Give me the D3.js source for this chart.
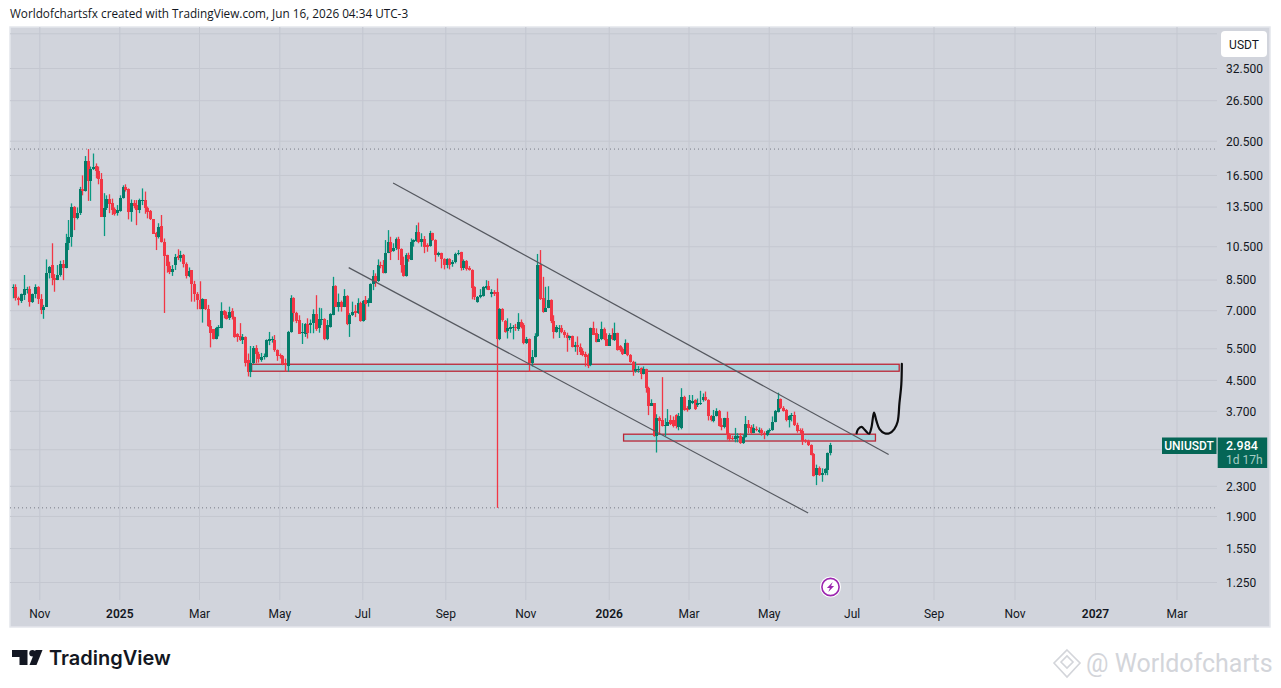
<!DOCTYPE html>
<html>
<head>
<meta charset="utf-8">
<script src="https://cdn.jsdelivr.net/npm/d3@7"></script>
<style>
  body { margin: 0; background: #fff; }
  text { font-family: Roboto, "Liberation Sans", sans-serif; }
</style>
</head>
<body>
<svg id="chart" width="1281" height="688"></svg>
<script>
// candles
var opens = [
  8.05,8.09,7.55,7.44,7.71,7.95,8.0,7.39,7.75,8.09,
  7.5,7.01,7.16,8.84,9.32,8.6,8.47,8.75,9.37,9.16,
  10.7,11.1,13.43,12.53,13.0,15.05,14.9,18.0,15.9,17.1,
  17.45,16.95,16.1,12.67,13.35,14.2,13.83,13.27,12.95,13.15,
  14.3,15.3,15.05,13.07,13.83,13.6,13.21,14.05,14.12,13.4,
  13.13,12.45,11.44,11.1,11.95,10.8,9.92,9.26,8.93,9.32,
  9.87,9.75,9.92,9.4,8.72,9.03,8.28,7.78,7.47,7.07,
  7.5,7.05,6.35,6.2,5.85,6.25,6.27,6.97,6.8,6.65,
  6.97,6.7,6.02,5.93,5.79,5.91,5.1,4.74,5.0,5.5,
  5.32,5.12,5.19,5.21,5.77,5.78,5.79,5.44,5.27,5.25,
  5.0,4.91,6.1,7.55,6.89,6.58,6.05,6.02,6.41,6.37,
  6.45,6.84,6.24,6.58,6.6,5.85,6.3,6.78,8.15,7.16,
  7.39,7.16,7.66,6.42,6.77,6.98,6.87,7.34,6.55,7.47,
  7.33,7.34,8.26,8.7,8.43,9.32,9.32,8.88,10.08,10.77,
  10.2,10.36,10.97,10.3,9.32,8.7,9.92,9.62,10.8,10.87,
  11.5,10.8,10.97,10.58,10.5,11.4,10.92,9.92,10.05,9.66,
  9.32,9.66,9.38,9.48,10.0,10.1,9.13,9.58,9.13,9.03,
  8.12,7.39,7.6,7.67,8.04,8.15,7.75,7.87,7.87,5.82,
  7.05,6.54,6.14,6.2,6.24,6.3,6.2,6.51,6.37,5.7,
  5.83,5.02,5.21,5.93,9.32,7.55,6.94,7.09,7.47,6.54,
  6.1,6.24,6.27,6.1,6.0,5.88,5.93,5.53,5.61,5.56,
  5.42,5.31,5.27,4.94,6.24,6.05,5.73,5.82,6.2,5.85,
  5.59,6.0,5.79,6.05,5.58,5.46,5.32,5.67,5.27,5.05,
  4.76,4.79,4.85,4.67,4.81,4.27,3.82,3.88,3.15,3.53,
  3.49,3.35,3.37,3.49,3.5,3.6,3.33,3.31,4.05,3.76,
  3.74,3.88,3.96,3.84,3.86,3.96,4.05,3.96,3.57,3.46,
  3.58,3.7,3.38,3.33,3.53,3.2,3.12,3.09,3.11,3.16,
  3.02,3.13,3.41,3.33,3.22,3.3,3.24,3.28,3.22,3.17,
  3.26,3.27,3.45,3.68,3.98,3.76,3.72,3.48,3.57,3.6,
  3.38,3.28,3.26,3.07,3.06,2.98,2.81,2.46,2.57,2.47,
  2.49,2.55,2.83
];
var highs = [
  8.25,8.25,7.63,7.78,8.75,8.12,8.15,7.78,8.25,8.15,
  7.75,7.24,9.66,9.26,10.7,8.8,9.32,9.58,9.62,11.36,
  12.4,13.78,13.54,13.43,15.3,16.45,18.6,19.44,17.4,18.9,
  17.75,17.4,16.7,14.7,14.5,14.6,14.2,13.43,13.63,14.5,
  15.45,15.55,15.15,14.12,14.07,14.07,14.2,15.15,14.85,13.5,
  13.21,12.45,11.5,12.15,12.8,11.03,9.95,9.52,9.32,10.0,
  10.3,10.2,10.0,9.48,9.18,9.03,8.43,7.85,8.41,7.55,
  7.5,7.24,6.58,6.2,6.3,6.37,7.36,7.01,6.94,7.16,
  7.09,6.72,6.05,6.45,6.02,5.93,5.32,5.58,5.58,5.61,
  5.38,5.34,5.32,5.82,6.1,5.93,5.98,5.46,5.32,5.27,
  5.15,6.14,7.7,7.6,6.93,6.78,6.45,6.45,6.65,6.6,
  7.04,7.7,7.11,7.09,6.65,6.58,6.87,8.65,8.2,7.78,
  7.44,8.0,7.7,6.87,7.39,7.24,7.55,7.39,7.47,7.66,
  7.55,8.3,9.03,8.84,9.66,9.52,9.62,10.92,11.63,11.15,
  10.7,11.1,11.15,10.36,9.83,10.05,10.08,11.03,10.97,12.0,
  12.2,11.4,11.2,10.7,11.58,11.44,10.97,10.14,10.08,9.73,
  9.73,9.73,9.62,10.08,10.25,10.14,9.66,9.62,9.26,9.07,
  8.15,7.66,8.0,8.15,8.47,8.43,8.0,7.95,8.56,7.09,
  7.09,6.58,6.65,6.45,6.37,6.42,6.87,6.6,6.45,5.91,
  5.85,5.44,6.05,10.0,10.25,8.65,8.12,8.15,7.5,6.78,
  6.37,6.37,6.37,6.17,6.07,5.96,5.96,5.73,5.93,5.67,
  5.5,5.38,5.32,6.27,6.51,6.24,6.02,6.51,6.27,6.05,
  6.05,6.24,6.47,6.07,5.61,5.53,5.82,5.7,5.3,5.08,
  5.05,4.91,4.87,4.9,4.83,4.31,3.98,3.88,3.62,3.57,
  4.58,3.53,3.74,3.6,3.57,3.62,3.65,4.27,4.07,3.81,
  4.09,4.09,3.98,4.0,4.2,4.13,4.18,3.98,3.6,3.72,
  3.76,3.72,3.53,3.54,3.68,3.21,3.16,3.32,3.21,3.21,
  3.18,3.58,3.49,3.38,3.4,3.35,3.33,3.31,3.25,3.28,
  3.31,3.57,3.72,4.15,4.0,3.81,3.74,3.6,3.65,3.68,
  3.43,3.31,3.31,3.09,3.08,2.99,2.83,2.63,2.6,2.57,
  2.57,2.84,3.02
];
var lows = [
  7.55,7.44,7.22,7.33,7.47,7.78,7.16,7.33,7.55,7.28,
  6.83,6.63,7.16,8.56,8.2,7.87,8.47,8.66,8.47,9.13,
  10.25,10.47,11.63,12.45,12.8,14.5,14.85,14.0,14.0,17.02,
  16.15,15.55,12.67,11.2,13.21,12.95,12.8,12.75,12.75,13.07,
  14.2,14.85,12.45,12.27,13.35,12.0,12.95,13.63,12.9,12.53,
  12.4,11.35,10.25,11.03,10.75,6.88,8.88,8.8,8.7,9.03,
  9.62,9.52,9.18,8.56,8.63,7.39,7.39,7.04,7.04,6.47,
  7.01,6.3,5.53,5.82,5.82,5.93,6.24,6.65,6.6,6.58,
  6.6,5.88,5.73,5.76,5.65,4.9,4.6,4.58,4.98,5.0,
  5.02,5.05,5.12,5.19,5.61,5.7,5.38,5.08,5.15,4.94,
  4.74,4.74,6.07,6.51,6.45,6.02,5.65,5.91,5.85,6.05,
  6.05,6.14,6.07,6.37,5.79,5.79,6.27,6.78,7.14,6.94,
  6.94,7.14,6.37,5.91,6.75,6.7,6.84,6.51,6.51,6.58,
  7.16,7.33,7.95,8.12,8.38,9.13,8.84,8.84,10.05,9.62,
  10.14,10.25,9.62,8.88,8.66,8.66,9.52,9.62,10.47,10.8,
  10.7,10.47,10.05,10.14,10.47,10.87,9.52,9.83,9.13,9.07,
  9.13,9.07,9.22,9.42,9.92,9.0,9.03,9.0,9.0,7.5,
  7.47,7.34,7.55,7.63,7.98,7.95,7.6,7.66,2.0,5.79,
  6.51,6.07,5.85,6.07,5.82,6.14,6.14,6.24,5.64,5.65,
  4.74,4.9,5.19,5.91,7.47,6.89,6.94,7.09,6.45,5.85,
  6.07,5.87,6.05,5.88,5.38,5.79,5.53,5.38,5.27,5.27,
  5.23,4.9,4.85,4.91,5.98,5.71,5.73,5.79,5.79,5.58,
  5.58,5.79,5.76,5.42,5.38,5.27,5.31,5.23,5.02,4.62,
  4.71,4.71,4.52,4.66,4.15,3.6,3.82,3.14,2.84,3.2,
  3.35,3.15,3.36,3.38,3.33,3.31,3.27,3.29,3.7,3.68,
  3.72,3.86,3.72,3.79,3.84,3.92,3.94,3.48,3.46,3.44,
  3.57,3.35,3.27,3.31,3.08,3.05,3.07,3.03,3.03,3.0,
  3.0,3.12,3.21,3.2,3.21,3.25,3.21,3.16,3.09,3.15,
  3.22,3.26,3.44,3.66,3.74,3.68,3.46,3.33,3.46,3.36,
  3.22,3.2,2.98,3.02,2.96,2.79,2.44,2.31,2.45,2.36,
  2.46,2.46,2.79
];
var closes = [
  8.12,7.55,7.47,7.75,8.0,8.0,7.39,7.75,8.09,7.5,
  7.01,7.16,8.84,9.18,8.6,8.47,8.75,9.37,9.16,10.7,
  11.1,13.43,12.53,13.0,15.05,14.9,18.0,15.9,17.1,17.4,
  16.95,16.1,12.67,13.35,14.2,13.7,13.21,12.9,13.21,14.3,
  15.25,15.0,13.07,13.83,13.55,13.21,14.07,14.12,13.4,13.07,
  12.45,11.35,11.1,11.9,10.8,9.87,9.26,8.93,9.07,9.83,
  9.73,9.92,9.4,8.7,8.97,8.28,7.78,7.47,7.07,7.5,
  7.05,6.35,6.05,5.85,6.24,6.3,6.97,6.77,6.62,6.94,
  6.7,5.91,5.91,5.79,5.91,5.02,4.74,5.0,5.5,5.31,
  5.13,5.21,5.23,5.79,5.82,5.82,5.44,5.25,5.24,4.98,
  4.96,6.1,7.55,6.87,6.55,6.02,6.1,6.41,6.07,6.45,
  6.84,6.2,6.6,6.63,5.82,6.37,6.84,8.15,7.16,7.39,
  7.14,7.66,6.42,6.77,6.94,6.87,7.34,6.54,7.44,7.28,
  7.47,8.26,8.7,8.38,9.32,9.26,8.88,10.08,10.77,10.14,
  10.36,10.97,10.3,9.32,8.7,9.92,9.66,10.8,10.92,11.5,
  10.8,10.97,10.47,10.47,11.4,10.92,9.92,10.05,9.66,9.32,
  9.66,9.32,9.48,10.0,10.08,9.13,9.58,9.07,9.03,8.04,
  7.6,7.6,7.7,8.09,8.15,7.95,7.87,7.78,5.82,7.05,
  6.58,6.1,6.24,6.3,6.3,6.24,6.51,6.3,5.67,5.82,
  5.02,5.21,5.96,9.32,7.5,6.94,7.09,7.47,6.54,6.1,
  6.3,6.27,6.08,6.0,5.88,5.93,5.56,5.61,5.56,5.38,
  5.27,5.19,4.91,6.24,5.98,5.73,5.82,6.2,5.85,5.59,
  6.0,5.82,6.05,5.44,5.44,5.32,5.67,5.27,5.05,4.76,
  4.81,4.83,4.67,4.81,4.27,3.82,3.88,3.15,3.53,3.47,
  3.36,3.38,3.45,3.41,3.36,3.35,3.58,4.03,3.72,3.72,
  3.96,3.94,3.74,3.88,3.89,4.05,3.96,3.57,3.48,3.58,
  3.7,3.36,3.33,3.53,3.18,3.09,3.09,3.15,3.16,3.02,
  3.13,3.41,3.31,3.21,3.31,3.28,3.28,3.21,3.2,3.26,
  3.28,3.45,3.7,3.98,3.76,3.7,3.48,3.57,3.6,3.38,
  3.25,3.25,3.05,3.05,2.98,2.8,2.45,2.57,2.46,2.49,
  2.56,2.83,2.984
];
// which bar falls on which day (days after 1 Nov 2024)
var barIndexMarks = [0, 26, 60, 100, 125, 150, 178, 193, 238, 302];
var barDayMarks = [-20.3, 34.9, 104.2, 185.2, 236.6, 283.8, 343.2, 373.8, 461.2, 591.1];

// axes
var priceTicks = [40.5, 32.5, 26.5, 20.5, 16.5, 13.5, 10.5, 8.5, 7, 5.5, 4.5, 3.7, 2.9, 2.3, 1.9, 1.55, 1.25];
var coveredTicks = [40.5, 2.9]; // sit behind the USDT button and the last price label
var timeTicks = ["2024-11-01","2025-01-01","2025-03-01","2025-05-01","2025-07-01","2025-09-01","2025-11-01","2026-01-01","2026-03-01","2026-05-01","2026-07-01","2026-09-01","2026-11-01","2027-01-01","2027-03-01"];
var timeLabels = ["Nov","2025","Mar","May","Jul","Sep","Nov","2026","Mar","May","Jul","Sep","Nov","2027","Mar"];

// drawings on the chart
var extremes = [19.44, 2.0];
var zoneStart = ["2025-04-10", "2026-01-12"], zoneEnd = ["2026-08-06", "2026-07-19"];
var zoneTop = [4.97, 3.19], zoneBottom = [4.755, 3.055];
var lineStart = ["2025-07-24", "2025-06-21"], lineEnd = ["2026-07-29", "2026-05-30"];
var lineFrom = [15.68, 9.17], lineTo = [2.805, 1.936];
// hand drawn path: days after 1 Nov 2024 and price
var pathDays = [610.7,611.9,614.4,616.9,620.1,621.9,623.9,625.7,628.1,631.9,635.6,639.3,641.8,643.2,644.6,645];
var pathPrices = [3.21,3.295,3.34,3.28,3.2,3.32,3.66,3.475,3.295,3.21,3.21,3.295,3.45,3.89,4.37,4.98];

var parse = d3.utcParse("%Y-%m-%d");
var dayZero = +parse("2024-11-01");
var svg = d3.select("#chart");

// tradingview spaces months by bars, so the time scale is pinned at each tick
var x = d3.scaleUtc().domain(timeTicks.map(parse))
  .range([39.3,119.3,199,279.3,362.3,445.3,525.3,608.7,688.5,768.7,851.7,933.5,1014.5,1095,1176.5]);
var y = d3.scaleLog().domain([1.25, 32.5]).range([582, 68]);
function dayX(d) { return x(new Date(dayZero + d * 864e5)); }

svg.append("text").attr("x", 10).attr("y", 18).attr("font-size", 11.75).attr("fill", "#131722")
  .style("font-family", "Open Sans")
  .text("Worldofchartsfx created with TradingView.com, Jun 16, 2026 04:34 UTC-3");

svg.append("rect").attr("x", 10).attr("y", 27).attr("width", 1260).attr("height", 600)
  .attr("fill", "#d1d4dc").attr("stroke", "#e4e6ec").attr("stroke-width", 1.5);

// grid
var gridX = svg.append("g").attr("transform", "translate(0,600)")
  .call(d3.axisBottom(x).tickValues(timeTicks.map(parse)).tickSize(-573).tickFormat(""));
var gridY = svg.append("g").attr("transform", "translate(10,0)")
  .call(d3.axisRight(y).tickValues(priceTicks).tickSize(1207).tickFormat(""));
gridX.select(".domain").remove();
gridY.select(".domain").remove();
svg.selectAll("g line").attr("stroke", "#c4c7d0").attr("stroke-width", 1);

// high and low dotted lines
svg.append("g").selectAll("line").data(extremes).join("line")
  .attr("x1", 10).attr("x2", 1216)
  .attr("y1", function(d) { return y(d); }).attr("y2", function(d) { return y(d); })
  .attr("stroke", "#787b86").attr("stroke-width", 1).attr("stroke-dasharray", "1 3");

// zones
svg.append("g").selectAll("rect").data(zoneTop).join("rect")
  .attr("x", function(d, i) { return x(parse(zoneStart[i])); })
  .attr("width", function(d, i) { return x(parse(zoneEnd[i])) - x(parse(zoneStart[i])); })
  .attr("y", function(d) { return y(d); })
  .attr("height", function(d, i) { return y(zoneBottom[i]) - y(d); })
  .attr("fill", "#a8d3dc").attr("stroke", "#bd2636").attr("stroke-width", 1.3);

// candles
var n = closes.length;
var barDay = d3.scaleLinear().domain(barIndexMarks).range(barDayMarks);
var bars = d3.range(n);
var upCol = "#089981", downCol = "#f23645";
function barX(i) { return Math.round(dayX(barDay(i))); }
function barCol(i) { return closes[i] >= opens[i] ? upCol : downCol; }

var wicks = svg.append("g");
wicks.selectAll("line").data(bars).join("line")
  .attr("x1", function(i) { return barX(i) + 0.5; }).attr("x2", function(i) { return barX(i) + 0.5; })
  .attr("y1", function(i) { return y(highs[i]); })
  .attr("y2", function(i) { return y(lows[i]); })
  .attr("stroke", barCol).attr("stroke-width", 1.3);
var bodies = svg.append("g").attr("shape-rendering", "crispEdges");
bodies.selectAll("rect").data(bars).join("rect")
  .attr("x", function(i) { return barX(i) - 1; })
  .attr("width", 3)
  .attr("y", function(i) { return y(Math.max(opens[i], closes[i])); })
  .attr("height", function(i) { return Math.max(1, Math.abs(y(opens[i]) - y(closes[i]))); })
  .attr("fill", function(i) { return closes[i] >= opens[i] ? "#057c69" : downCol; });

// channel lines
svg.append("g").selectAll("line").data(lineFrom).join("line")
  .attr("x1", function(d, i) { return x(parse(lineStart[i])); })
  .attr("x2", function(d, i) { return x(parse(lineEnd[i])); })
  .attr("y1", function(d) { return y(d); })
  .attr("y2", function(d, i) { return y(lineTo[i]); })
  .attr("stroke", "#55585f").attr("stroke-width", 1.2);

// brush path
var pathLine = d3.line()
  .x(function(d) { return dayX(d); })
  .y(function(d, i) { return y(pathPrices[i]); })
  .curve(d3.curveCatmullRom);
svg.append("path").attr("d", pathLine(pathDays))
  .attr("fill", "none").attr("stroke", "#0c0c0e").attr("stroke-width", 2.2)
  .attr("stroke-linecap", "round").attr("stroke-linejoin", "round");

// lightning marker
var marker = svg.append("g").attr("transform", "translate(" + (barX(n - 1) + 0.5) + ",587)");
marker.append("circle").attr("r", 10.5).attr("fill", "#fff");
marker.append("circle").attr("r", 8.6).attr("fill", "#fff").attr("stroke", "#9c27b0").attr("stroke-width", 1.6);
marker.append("path").attr("d", "M2.2,-5 L-3.6,0.9 L-0.6,0.9 L-2.2,5 L3.6,-1 L0.6,-1 Z").attr("fill", "#9c27b0");

// price scale
var priceAxis = svg.append("g").attr("transform", "translate(1226,0.5)")
  .call(d3.axisRight(y).tickValues(priceTicks).tickSize(0).tickPadding(0)
    .tickFormat(function(d) { return coveredTicks.indexOf(d) >= 0 ? "" : d3.format(".3f")(d); }));
priceAxis.select(".domain").remove();
priceAxis.selectAll("text").attr("font-size", 12).attr("fill", "#131722").style("font-family", "Roboto");

svg.append("rect").attr("x", 1221).attr("y", 31).attr("width", 46).attr("height", 26).attr("rx", 4).attr("fill", "#fff");
svg.append("text").attr("x", 1244).attr("y", 48.5).attr("text-anchor", "middle").attr("font-size", 12).attr("fill", "#131722").text("USDT");

// last price labels
svg.append("rect").attr("x", 1162).attr("y", 437.5).attr("width", 54.5).attr("height", 16.5).attr("fill", "#056656");
svg.append("rect").attr("x", 1217.7).attr("y", 437.5).attr("width", 49.5).attr("height", 30.5).attr("fill", "#056656");
svg.append("text").attr("x", 1189).attr("y", 450).attr("text-anchor", "middle").attr("font-size", 12).attr("font-weight", 500).attr("fill", "#fff").text("UNIUSDT");
svg.append("text").attr("x", 1226).attr("y", 450).attr("font-size", 12.5).attr("font-weight", 500).attr("fill", "#fff").text(d3.format(".3f")(closes[n - 1]));
svg.append("text").attr("x", 1226).attr("y", 464).attr("font-size", 12).attr("fill", "#a5cdc3").text("1d 17h");

// time scale
var timeAxis = svg.append("g").attr("transform", "translate(0,609)")
  .call(d3.axisBottom(x).tickValues(timeTicks.map(parse)).tickSize(0).tickPadding(0)
    .tickFormat(function(d, i) { return timeLabels[i]; }));
timeAxis.select(".domain").remove();
timeAxis.selectAll("text").attr("font-size", 12).attr("fill", "#131722").style("font-family", "Roboto")
  .attr("font-weight", function(d, i) { return /^\d/.test(timeLabels[i]) ? 600 : 400; });

// footer logo
var logo = svg.append("g").attr("fill", "#131722");
logo.append("path").attr("d", "M12,650 H27.5 V665 H19.5 V657 H12 Z");
logo.append("circle").attr("cx", 32.5).attr("cy", 653.2).attr("r", 3.2);
logo.append("path").attr("d", "M29.5,665 L35.5,650 H42.5 L36.5,665 Z");
svg.append("text").attr("x", 49).attr("y", 665).attr("font-size", 20).attr("font-weight", 600)
  .attr("fill", "#131722").style("font-family", "Inter").text("TradingView");

// watermark
var wm = svg.append("g").attr("fill", "none").attr("stroke", "#d3d5da").attr("stroke-width", 1.6);
wm.append("path").attr("d", "M1067,650 L1080,663 L1067,677 L1054,663 Z");
wm.append("path").attr("d", "M1061,662 L1067,656 L1073,662 L1067,668 Z");
svg.append("text").attr("x", 1086).attr("y", 672).attr("font-size", 25).attr("fill", "#d3d5da").text("@ Worldofcharts");
</script>
</body>
</html>
